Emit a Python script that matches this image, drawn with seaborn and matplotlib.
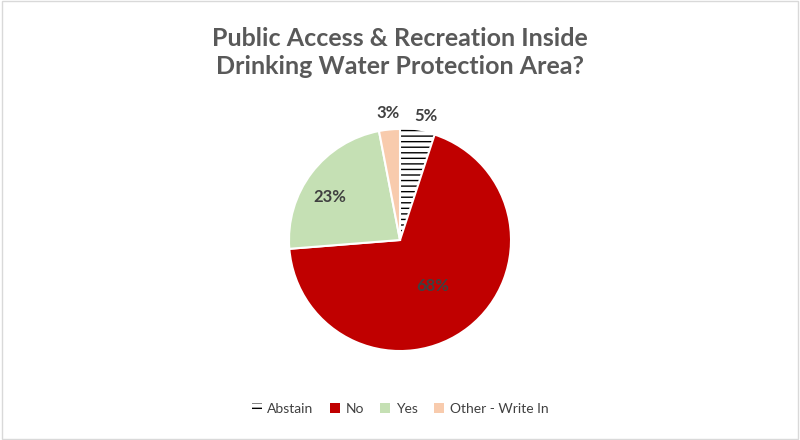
import matplotlib
matplotlib.use("Agg")
import matplotlib.pyplot as plt
import seaborn as sns
from matplotlib.patches import Patch, Rectangle

sns.set_theme(style="white")
plt.rcParams['font.family'] = ['Lato', 'DejaVu Sans']

categories = ["Abstain", "No", "Yes", "Other - Write In"]
values = [5, 68, 23, 3]
labels = ["5%", "68%", "23%", "3%"]
colors = ["white", "#C00000", "#C5E0B4", "#F8CBAD"]
hatches = ["---", None, None, None]

fig = plt.figure(figsize=(8, 4.4), dpi=100)
fig.patches.append(Rectangle((0.002, 0.002), 0.996, 0.996, transform=fig.transFigure,
                             fill=False, edgecolor="#D9D9D9", linewidth=1))
ax = fig.add_axes([0.5 - 0.139, 0.4545 - 0.2523, 0.278, 0.5046])
wedges, _ = ax.pie(values, colors=colors, startangle=90, counterclock=False,
                   wedgeprops=dict(edgecolor="white", linewidth=1.5))
for w, h in zip(wedges, hatches):
    if h:
        w.set_hatch(h)
        w.set_edgecolor("black")
        w.set_linewidth(0)
ax.set_xlim(-1, 1)
ax.set_ylim(-1, 1)
ax.set_aspect("equal")

label_pos = [(0.23, 1.12), (0.29, -0.41), (-0.63, 0.39), (-0.11, 1.14)]
for (x, y), t in zip(label_pos, labels):
    ax.text(x, y, t, ha="center", va="center", fontsize=12, fontweight="bold", color="#404040")

fig.text(0.5, 0.88, "Public Access & Recreation Inside\nDrinking Water Protection Area?",
         ha="center", va="center", fontsize=18, fontweight="bold", color="#595959", linespacing=1.25)

handles = [Patch(facecolor=c, hatch=h, edgecolor="black" if h else c, linewidth=0) for c, h in zip(colors, hatches)]
fig.legend(handles, categories, loc="center", bbox_to_anchor=(0.5, 0.07), ncol=4, frameon=False,
           fontsize=10, handlelength=0.7, handleheight=0.7, columnspacing=1.2, handletextpad=0.4,
           labelcolor="#404040")
fig.savefig("out.png", dpi=100)
